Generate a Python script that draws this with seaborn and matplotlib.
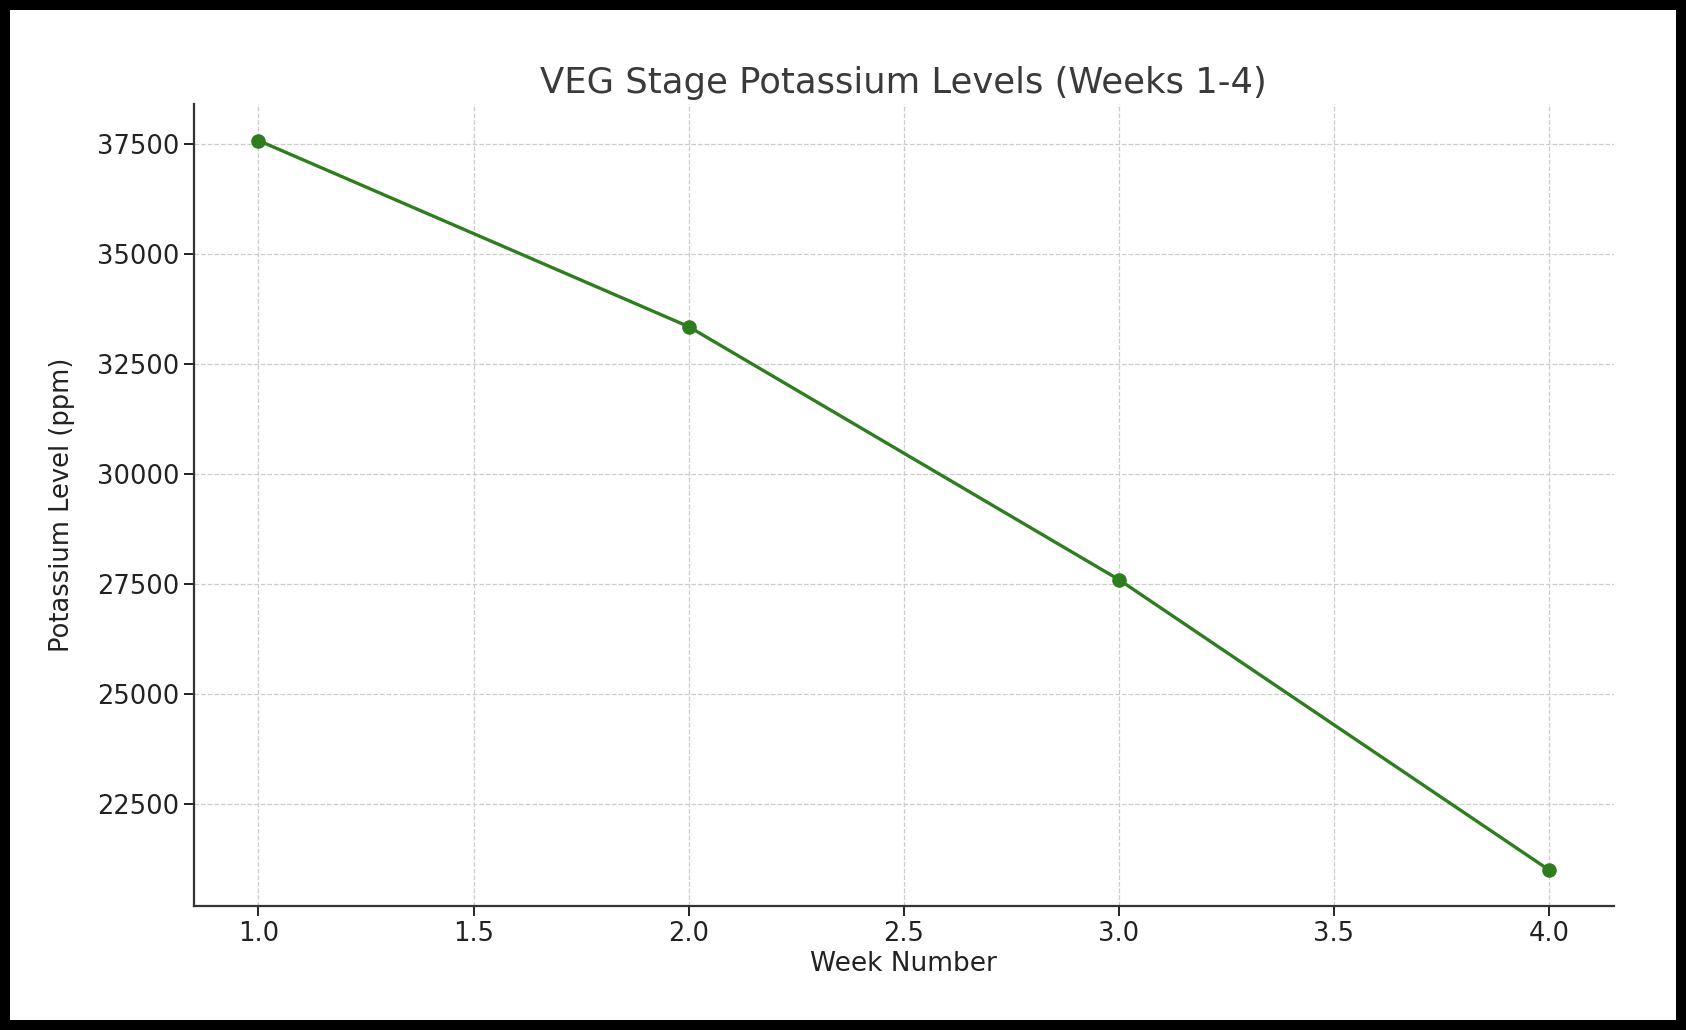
import pandas as pd
import seaborn as sns
import matplotlib
matplotlib.use("Agg")
import matplotlib.pyplot as plt

# values
weeks = [1, 2, 3, 4]
potassium = [37580, 33350, 27600, 21000]

df = pd.DataFrame({'Week': weeks, 'Potassium': potassium})

sns.set_theme(style='ticks')
plt.rcParams['font.family'] = ['DejaVu Sans']

fig, ax = plt.subplots(figsize=(16.86, 10.30), dpi=100)
fig.subplots_adjust(left=0.115, right=0.957, top=0.899, bottom=0.12)

sns.lineplot(data=df, x='Week', y='Potassium', ax=ax, color='#2e7d1f',
             linewidth=2.4, marker='o', markersize=10.5, markeredgewidth=0)

ax.grid(True, linestyle='--', color='#cccccc', linewidth=0.9)
sns.despine(ax=ax)
for s in ['left', 'bottom']:
    ax.spines[s].set_color('#333333')
    ax.spines[s].set_linewidth(1.6)

ax.set_xticks([1.0, 1.5, 2.0, 2.5, 3.0, 3.5, 4.0])
ax.set_xticklabels(['1.0', '1.5', '2.0', '2.5', '3.0', '3.5', '4.0'])
ax.tick_params(axis='both', labelsize=18.5, colors='#222222', length=7, width=1.4)

ax.set_title('VEG Stage Potassium Levels (Weeks 1-4)', fontsize=25.5, color='#3a3a3a', pad=8)
ax.set_xlabel('Week Number', fontsize=19, color='#222222', labelpad=3)
ax.set_ylabel('Potassium Level (ppm)', fontsize=18.5, color='#222222', labelpad=16)

# black frame round the picture
fig.patch.set_edgecolor('black')
fig.patch.set_linewidth(13)

fig.savefig('out.png', dpi=100, edgecolor=fig.get_edgecolor(), facecolor='white')
